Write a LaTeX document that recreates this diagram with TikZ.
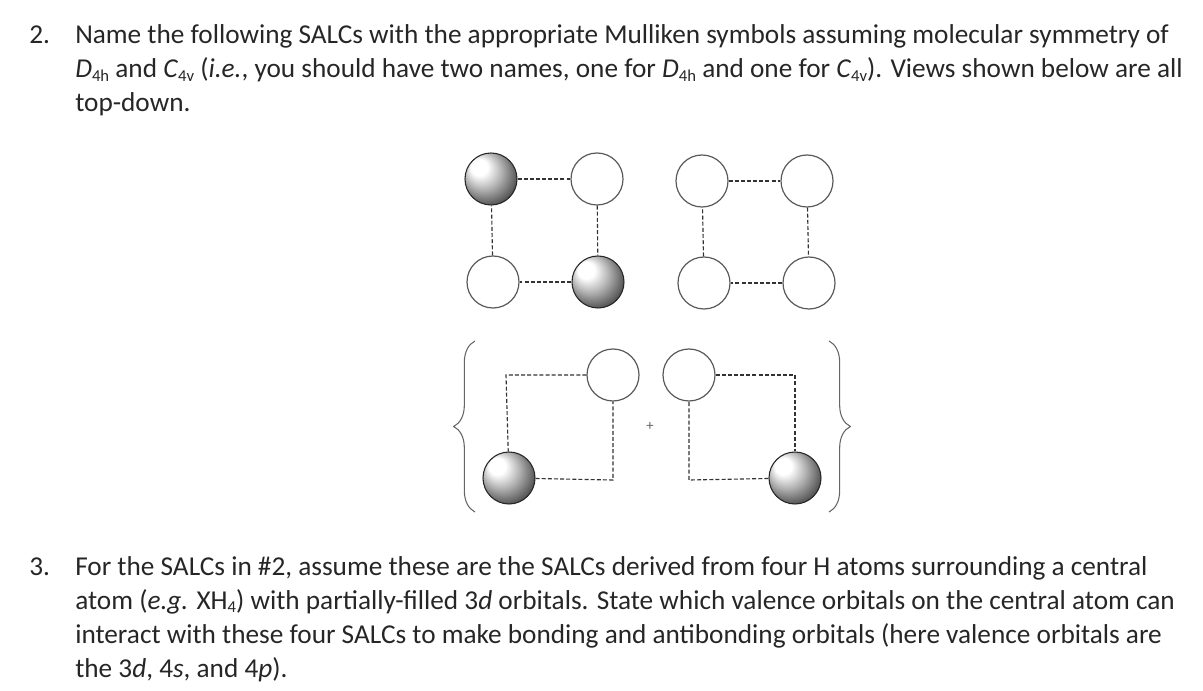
\documentclass[tikz,border=0pt]{standalone}
\usepackage{fontspec}
\setmainfont{Carlito}
\usetikzlibrary{decorations.pathreplacing}
\pgfdeclareradialshading{orbshade}{\pgfpoint{-14bp}{14bp}}{color(0bp)=(white); color(8bp)=(white); color(18bp)=(black!30); color(28bp)=(black!62); color(36bp)=(black!92); color(42bp)=(black)}
\newcommand{\sub}[1]{{\fontsize{12.5}{12.5}\selectfont\raisebox{-0.22em}{#1}}}
\tikzset{
	textline/.style={anchor=base west, inner sep=0pt, font=\fontsize{20.45}{24}\selectfont, text=black!85},
	emptyorb/.style={circle, draw=black!65, line width=0.9pt, minimum size=39pt, inner sep=0pt},
	fullorb/.style={circle, draw=black!85, line width=0.8pt, minimum size=39pt, inner sep=0pt, shading=orbshade},
	link/.style={draw=black!80, dash pattern=on 3pt off 1.6pt, line width=0.85pt},
	curly/.style={draw=black!60, line width=0.8pt, decorate, decoration={brace, amplitude=16pt}}
}
\begin{document}
\begin{tikzpicture}[x=0.75pt, y=-0.75pt]
	\useasboundingbox (0, 0) rectangle (1203, 691);
	% text above the orbitals
	\node[textline] (numtwo) at (29, 44) {2.};
	\node[textline] (twoa) at (75, 44) {Name the following SALCs with the appropriate Mulliken symbols assuming molecular symmetry of};
	\node[textline] (twob) at (75, 78) {\textit{D}\sub{4h} and \textit{C}\sub{4v} (\textit{i.e.}, you should have two names, one for \textit{D}\sub{4h} and one for \textit{C}\sub{4v}). Views shown below are all};
	\node[textline] (twoc) at (75, 112) {top-down.};
	% first pair
	\node[fullorb] (aa) at (491, 179) {};
	\node[emptyorb] (ab) at (597, 179) {};
	\node[emptyorb] (ac) at (493, 282) {};
	\node[fullorb] (ad) at (598, 282) {};
	\draw[link] (aa) -- (ab);
	\draw[link] (ab) -- (ad);
	\draw[link] (ad) -- (ac);
	\draw[link] (ac) -- (aa);
	\node[emptyorb] (ba) at (702, 181) {};
	\node[emptyorb] (bb) at (807, 181) {};
	\node[emptyorb] (bc) at (704, 283) {};
	\node[emptyorb] (bd) at (809, 283) {};
	\draw[link] (ba) -- (bb);
	\draw[link] (bb) -- (bd);
	\draw[link] (bd) -- (bc);
	\draw[link] (bc) -- (ba);
	% degenerate pair in braces
	\node[emptyorb] (ca) at (613, 375) {};
	\node[fullorb] (cb) at (509, 478) {};
	\coordinate (cc) at (506, 375);
	\coordinate (cd) at (613, 480);
	\draw[link] (ca) -- (cc) -- (cb);
	\draw[link] (cb) -- (cd) -- (ca);
	\node[emptyorb] (da) at (689, 375) {};
	\node[fullorb] (db) at (795, 478) {};
	\coordinate (dc) at (795, 375);
	\coordinate (dd) at (689, 480);
	\draw[link] (da) -- (dc) -- (db);
	\draw[link] (db) -- (dd) -- (da);
	\node[inner sep=0pt, text=black!60, font=\fontsize{11}{11}\selectfont] (plus) at (650, 426) {+};
	\coordinate (la) at (475, 512);
	\coordinate (lb) at (475, 341);
	\coordinate (ra) at (829, 341);
	\coordinate (rb) at (829, 512);
	\draw[curly] (la) -- (lb);
	\draw[curly] (ra) -- (rb);
	% text below the orbitals
	\node[textline] (numthree) at (29, 575) {3.};
	\node[textline] (threea) at (75, 575) {For the SALCs in \#2, assume these are the SALCs derived from four H atoms surrounding a central};
	\node[textline] (threeb) at (75, 609) {atom (\textit{e.g.} XH\sub{4}) with partially-filled 3\textit{d} orbitals. State which valence orbitals on the central atom can};
	\node[textline] (threec) at (75, 643) {interact with these four SALCs to make bonding and antibonding orbitals (here valence orbitals are};
	\node[textline] (threed) at (75, 677) {the 3\textit{d}, 4\textit{s}, and 4\textit{p}).};
\end{tikzpicture}
\end{document}
